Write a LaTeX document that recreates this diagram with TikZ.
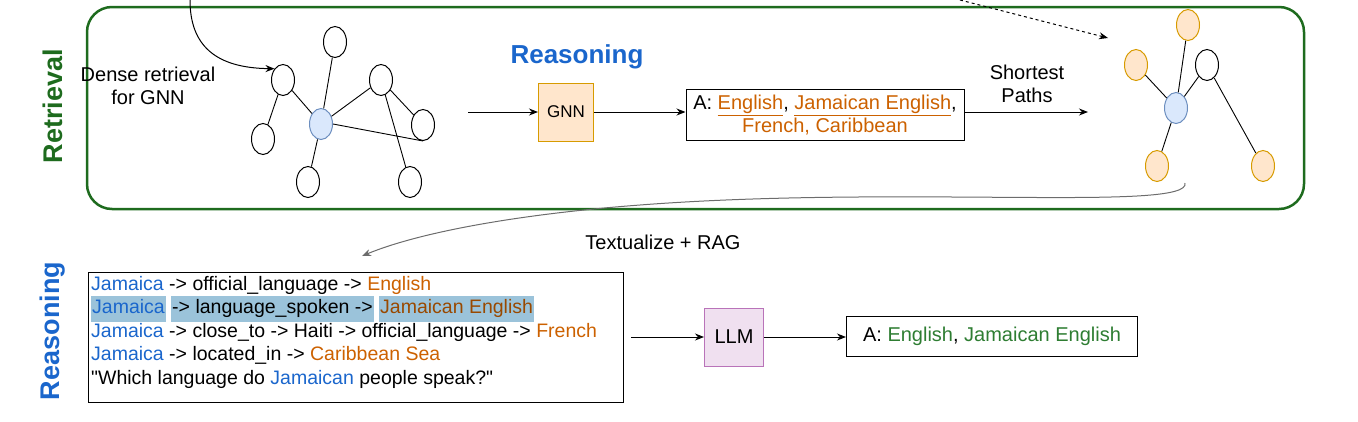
\documentclass[tikz,border=0pt]{standalone}
\usepackage{fontspec}
\setmainfont{Liberation Sans}
\usetikzlibrary{arrows.meta,shapes.geometric}
\definecolor{gr}{HTML}{1E6B1E}
\definecolor{bl}{HTML}{1A66CC}
\definecolor{org}{HTML}{CC6100}
\definecolor{ogfill}{HTML}{FFE6CC}
\definecolor{ogdraw}{HTML}{D79B00}
\definecolor{blfill}{HTML}{DAE8FC}
\definecolor{bldraw}{HTML}{6C8EBF}
\definecolor{hl}{HTML}{9BC3DA}
\definecolor{grn}{HTML}{2E7D32}
\begin{document}
\begin{tikzpicture}[x=1pt,y=-1pt,
  nd/.style={ellipse,draw,line width=1pt,minimum width=23pt,minimum height=31pt,inner sep=0pt},
  bn/.style={nd,fill=blfill,draw=bldraw},
  on/.style={nd,fill=ogfill,draw=ogdraw},
  arr/.style={-{Stealth[length=9pt,width=7pt]},line width=1pt},
  txt/.style={font=\fontsize{20}{23.5}\selectfont},
  ed/.style={line width=0.9pt}]
\useasboundingbox (0,0) rectangle (1358,421);
\draw[gr,line width=2.5pt,rounded corners=25pt] (87,7) rectangle (1304,209);
\node[rotate=90,text=gr,font=\bfseries\fontsize{27}{30}\selectfont] (lr) at (53,106) {Retrieval};
\node[rotate=90,text=bl,font=\bfseries\fontsize{27}{30}\selectfont] (lre) at (53,331) {Reasoning};
% left graph
\node[bn] (c) at (321,124) {};
\node[nd] (t) at (335,42) {};
\node[nd] (ul) at (283,80) {};
\node[nd] (ur) at (381,80) {};
\node[nd] (r) at (423,125) {};
\node[nd] (ll) at (263,139) {};
\node[nd] (bl) at (308,182) {};
\node[nd] (br) at (410,182) {};
\draw[ed] (c)--(t) (c)--(ul) (c)--(ur) (c.east)--(r.south) (ul)--(ll) (c)--(bl) (ur)--(r) (ur)--(br);
\node[txt,align=center] (dr) at (148,86) {Dense retrieval\\for GNN};
\coordinate (s0) at (190,0);
\draw[arr] (s0) .. controls (190,45) and (215,68) .. (ul.north west);
\node[text=bl,font=\bfseries\fontsize{26}{28}\selectfont] (rs) at (577,57) {Reasoning};
\node[draw=ogdraw,fill=ogfill,line width=1pt,minimum width=55pt,minimum height=58pt,font=\fontsize{17}{18}\selectfont] (gnn) at (566,112) {GNN};
\coordinate (a1) at (468,112);
\draw[arr] (a1) -- (gnn.west);
\node[draw,line width=1pt,minimum width=278pt,minimum height=51pt,align=center,txt,inner sep=2pt] (ans) at (825,115)
 {A: \textcolor{org}{\underline{English}}, \textcolor{org}{\underline{Jamaican English}},\\ \textcolor{org}{French, Caribbean}};
\draw[arr] (gnn.east) -- (gnn.east -| ans.west);
\node[txt,align=center] (sp) at (1027,84) {Shortest\\Paths};
% right graph
\node[bn] (c2) at (1176,108) {};
\node[on] (t2) at (1188,25) {};
\node[on] (l2) at (1136,65) {};
\node[nd] (r2) at (1207,65) {};
\node[on] (bl2) at (1157,166) {};
\node[on] (br2) at (1263,166) {};
\draw[ed] (c2)--(t2) (c2)--(l2) (c2)--(r2) (c2)--(bl2) (r2)--(br2);
\coordinate (a3) at (1088,112);
\draw[arr] (ans.east |- a3) -- (a3);
\coordinate (d0) at (960,0);
\draw[arr,dashed] (d0) -- (1108,38);
% lower
\setlength{\fboxsep}{1pt}
\draw[line width=1pt] (88,272) rectangle (623,402);
\node[font=\fontsize{19.5}{23.5}\selectfont,anchor=north west,align=left,inner xsep=2pt,inner ysep=0pt] (tb) at (89,276) {%
\textcolor{bl}{Jamaica} -> official\_language -> \textcolor{org}{English}\\
\colorbox{hl}{\strut\textcolor{bl}{Jamaica}} \colorbox{hl}{\strut-> language\_spoken ->} \colorbox{hl}{\strut\textcolor{org!75!black}{Jamaican English}}\\
\textcolor{bl}{Jamaica} -> close\_to -> Haiti -> official\_language -> \textcolor{org}{French}\\
\textcolor{bl}{Jamaica} -> located\_in -> \textcolor{org}{Caribbean Sea}\\
\textquotedbl Which language do \textcolor{bl}{Jamaican} people speak?\textquotedbl};
\draw[gray!85!black,line width=1pt,-{Stealth[length=9pt,width=7pt]}] (1185,183) .. controls (1192,212) and (900,185) .. (640,205) .. controls (520,214) and (420,232) .. (362,256);
\node[txt] (tr) at (663,242) {Textualize + RAG};
\node[draw=violet!55,fill=violet!12,line width=1pt,minimum width=59pt,minimum height=58pt,txt] (llm) at (734,337) {LLM};
\coordinate (a4) at (631,337);
\draw[arr] (a4) -- (llm.west);
\node[draw,line width=1pt,minimum width=291pt,minimum height=40pt,txt] (a2) at (992,336) {A: \textcolor{grn}{English}, \textcolor{grn}{Jamaican English}};
\draw[arr] (llm.east) -- (llm.east -| a2.west);
\end{tikzpicture}
\end{document}
